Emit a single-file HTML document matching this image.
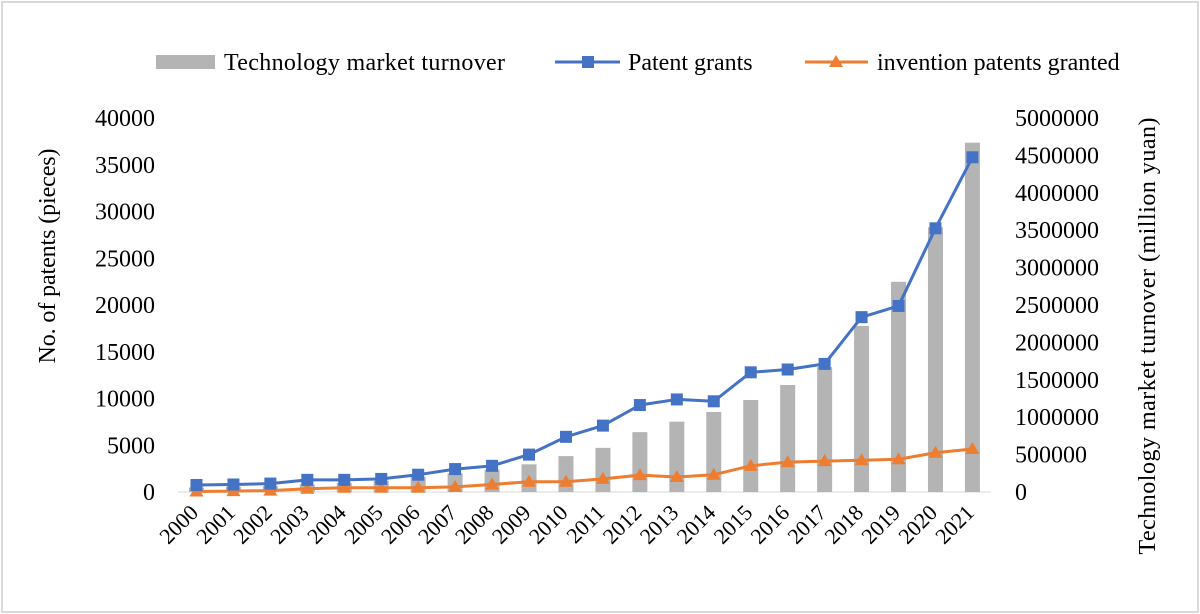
<!DOCTYPE html>
<html><head><meta charset="utf-8"><style>
body{margin:0;background:#fff}
svg{display:block;font-family:"Liberation Serif",serif}
</style></head><body>
<svg id="c" width="1200" height="614">
<rect x="2" y="2" width="1196" height="610" fill="#fff" stroke="#d9d9d9" stroke-width="2"/>
<g id="legend">
<rect x="156" y="55" width="59" height="14" fill="#b4b4b4"/>
<text x="224" y="70" font-size="24" textLength="281">Technology market turnover</text>
<line x1="555" y1="62" x2="620" y2="62" stroke="#4472c4" stroke-width="3"/>
<rect x="582" y="56" width="12" height="12" fill="#4472c4"/>
<text x="628" y="70" font-size="24">Patent grants</text>
<line x1="805" y1="62" x2="868" y2="62" stroke="#ed7d31" stroke-width="3"/>
<polygon points="836,55 843,67 829,67" fill="#ed7d31"/>
<text x="877" y="70" font-size="24">invention patents granted</text>
</g>
<text transform="translate(55,256) rotate(-90)" text-anchor="middle" font-size="24" textLength="215">No. of patents (pieces)</text>
<text transform="translate(1155,336) rotate(-90)" text-anchor="middle" font-size="24" textLength="437">Technology market turnover (million yuan)</text>
<g id="plot"></g>
</svg>
<script>
const years=["2000","2001","2002","2003","2004","2005","2006","2007","2008","2009","2010","2011","2012","2013","2014","2015","2016","2017","2018","2019","2020","2021"];
const turnover=[60000,70000,80000,100000,120000,150000,200000,250000,300000,370000,480000,590000,800000,940000,1070000,1230000,1430000,1670000,2220000,2810000,3540000,4670000];
const patents=[750,800,900,1300,1300,1400,1850,2450,2800,4000,5900,7100,9300,9900,9700,12800,13100,13700,18700,19900,28200,35800];
const invention=[50,100,150,350,450,450,450,550,800,1100,1100,1400,1800,1600,1850,2800,3200,3300,3400,3500,4200,4600];
const leftTicks=[0,5000,10000,15000,20000,25000,30000,35000,40000];
const rightTicks=[0,500000,1000000,1500000,2000000,2500000,3000000,3500000,4000000,4500000,5000000];
const NS="http://www.w3.org/2000/svg";
const g=document.getElementById('plot');
const X0=178,STEP=36.95,Y0=492,H=374;
const x=i=>X0+STEP*(i+0.5);
const yL=v=>Y0-v/40000*H;
const yR=v=>Y0-v/5000000*H;
function mk(t,a){const e=document.createElementNS(NS,t);for(const k in a)e.setAttribute(k,a[k]);g.appendChild(e);return e;}
let e=mk('line',{x1:X0,y1:Y0,x2:X0+STEP*years.length,y2:Y0,stroke:'#d9d9d9','stroke-width':1});


leftTicks.forEach(v=>{const t=mk('text',{x:155,y:yL(v)+8,'text-anchor':'end','font-size':24});t.textContent=v;

});
rightTicks.forEach(v=>{const t=mk('text',{x:1015,y:yR(v)+8,'font-size':24});t.textContent=v;

});
years.forEach((yr,i)=>{const t=mk('text',{transform:`translate(${x(i)+3},${Y0+22}) rotate(-45)`,'text-anchor':'end','font-size':22});t.textContent=yr;

});
turnover.forEach((v,i)=>{const r=mk('rect',{x:x(i)-7.5,y:yR(v),width:15,height:Y0-yR(v),fill:'#b4b4b4'});

});
function series(vals,color,marker,name){
 const p=mk('polyline',{points:vals.map((v,i)=>x(i)+','+yL(v)).join(' '),fill:'none',stroke:color,'stroke-width':3,'stroke-linejoin':'round'});
 
 
 vals.forEach((v,i)=>{let m;const cx=x(i),cy=yL(v);
  if(marker==='sq')m=mk('rect',{x:cx-6,y:cy-6,width:12,height:12,fill:color});
  else m=mk('polygon',{points:`${cx},${cy-7} ${cx+7},${cy+5} ${cx-7},${cy+5}`,fill:color});
  
  });
}
series(invention,'#ed7d31','tri','invention-patents');
series(patents,'#4472c4','sq','patent-grants');
</script>
</body></html>
